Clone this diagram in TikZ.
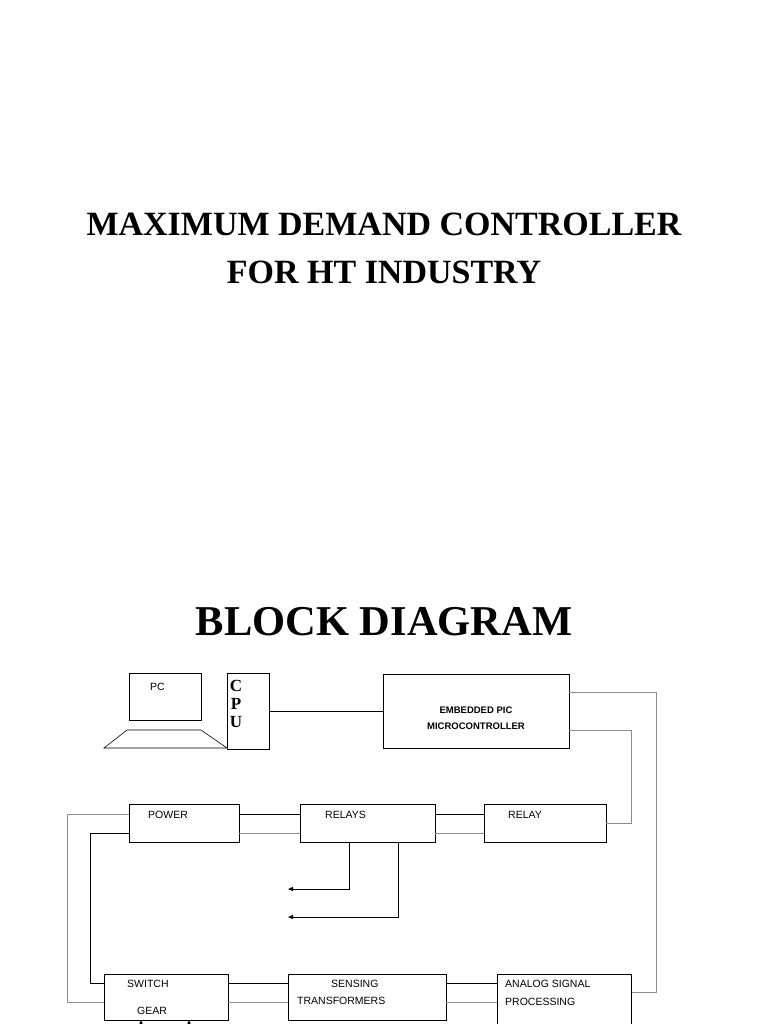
\documentclass[tikz,border=0pt]{standalone}
\usepackage{fontspec}
\setmainfont{Liberation Serif}
\setsansfont{Liberation Sans}
\usetikzlibrary{arrows.meta}
\begin{document}
\begin{tikzpicture}[x=1pt,y=-1pt,
  blk/.style={draw,line width=0.9pt},
  lbl/.style={font=\sffamily\fontsize{10.5}{12}\selectfont,inner sep=0pt,anchor=west},
  dk/.style={line width=0.9pt},
  gr/.style={line width=0.9pt,draw=black!45},
  arr/.style={line width=0.9pt,-{Triangle[length=5pt,width=4pt]}}]
\useasboundingbox (0,0) rectangle (768,1024);
\node (t1) at (384,224) {\fontsize{34}{38}\selectfont\bfseries MAXIMUM DEMAND CONTROLLER};
\node (t2) at (384,272) {\fontsize{34}{38}\selectfont\bfseries FOR HT INDUSTRY};
\node (t3) at (384,622) {\fontsize{42.5}{48}\selectfont\bfseries BLOCK DIAGRAM};
% PC
\draw[blk] (129,673) rectangle (201,720);
\node[lbl] (pc) at (150,687) {PC};
\draw[line width=0.6pt] (127,730) -- (201,730) -- (227,748) -- (104,748) -- cycle;
\draw[blk] (227,673) rectangle (269,749);
\node[inner sep=0pt,font=\fontsize{17}{17}\selectfont\bfseries] (c) at (236,686) {C};
\node[inner sep=0pt,font=\fontsize{17}{17}\selectfont\bfseries] (p) at (236,704) {P};
\node[inner sep=0pt,font=\fontsize{17}{17}\selectfont\bfseries] (u) at (236,722) {U};
\coordinate (cpuR) at (269,711);
\draw[blk] (383,674) rectangle (569,748);
\node[font=\sffamily\bfseries\fontsize{9.5}{11}\selectfont,align=center,inner sep=0pt] (emb) at (476,718) {EMBEDDED PIC\\[5pt]MICROCONTROLLER};
\coordinate (embL) at (383,711);
\draw[dk] (cpuR) -- (embL);
% row 2
\draw[blk] (129,804) rectangle (239,842);
\draw[blk] (300,804) rectangle (435,842);
\draw[blk] (484,804) rectangle (606,842);
\node[lbl] (pw) at (148,815) {POWER};
\node[lbl] (rs) at (325,815) {RELAYS};
\node[lbl] (rl) at (508,815) {RELAY};
\draw[dk] (239,814) -- (300,814) (435,814) -- (484,814);
\draw[gr] (239,833) -- (300,833) (435,833) -- (484,833);
\draw[gr] (569,692) -- (656,692) -- (656,992) -- (631,992);
\draw[gr] (569,730) -- (631,730) -- (631,823) -- (606,823);
% left loops
\draw[gr] (129,814) -- (67,814) -- (67,1002) -- (104,1002);
\draw[dk] (129,833) -- (90,833) -- (90,983) -- (104,983);
% arrows from relays
\draw[arr] (349,842) -- (349,889) -- (288,889);
\draw[arr] (398,842) -- (398,917) -- (288,917);
% bottom row
\draw[blk] (104,974) rectangle (228,1020);
\draw[blk] (288,974) rectangle (446,1020);
\draw[blk] (497,974) rectangle (631,1030);
\node[lbl] (sw) at (127,984) {SWITCH};
\node[lbl] (gear) at (137,1011) {GEAR};
\node[lbl] (se) at (331,984) {SENSING};
\node[lbl] (tr) at (297,1001) {TRANSFORMERS};
\node[lbl] (an) at (505,984) {ANALOG SIGNAL};
\node[lbl] (pr) at (505,1002) {PROCESSING};
\draw[dk] (228,983) -- (288,983) (446,983) -- (497,983);
\draw[gr] (228,1002) -- (288,1002) (446,1002) -- (497,1002);
\draw[arr] (141,1030) -- (141,1020);
\draw[arr] (189,1030) -- (189,1020);
\end{tikzpicture}
\end{document}
